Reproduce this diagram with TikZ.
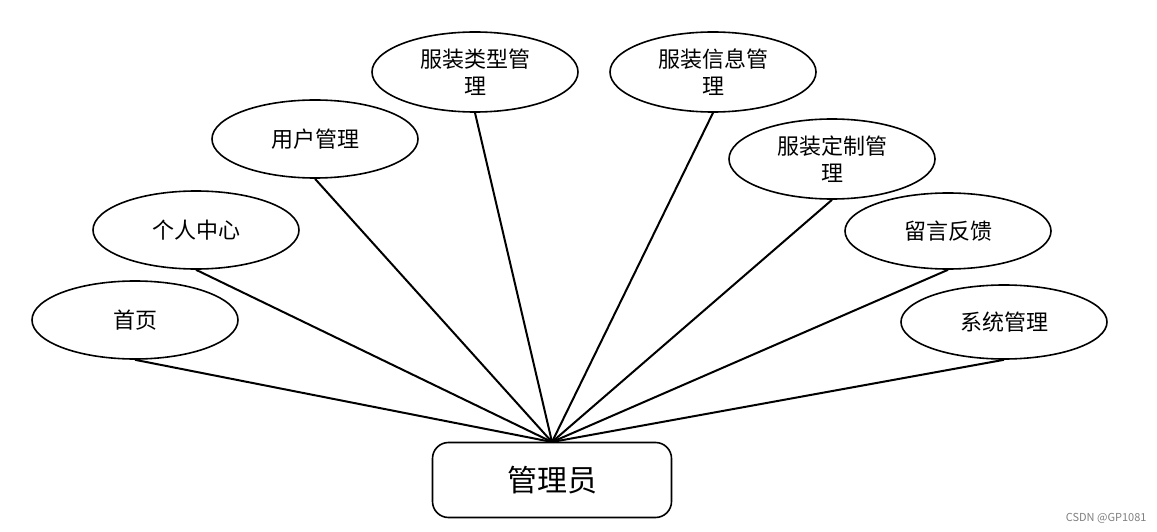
\documentclass[tikz,border=0pt]{standalone}
\usepackage{fontspec}
\setmainfont{Noto Sans CJK SC}
\usetikzlibrary{shapes.geometric}
\begin{document}
\begin{tikzpicture}[x=1pt,y=-1pt,
  ell/.style={ellipse,draw,line width=1.6pt,minimum width=206pt,minimum height=78pt,inner sep=0pt,font=\fontsize{22}{27}\selectfont,align=center},
  conn/.style={line width=2pt}]
\useasboundingbox[fill=white] (0,0) rectangle (1157,532);
\node[ell] (a) at (135,320) {首页};
\node[ell] (b) at (196,230) {个人中心};
\node[ell] (c) at (315,139) {用户管理};
\node[ell,minimum height=80pt] (d) at (475,72) {服装类型管\\理};
\node[ell,minimum height=80pt] (e) at (713,72) {服装信息管\\理};
\node[ell,minimum height=80pt] (f) at (832,159) {服装定制管\\理};
\node[ell,minimum height=76pt] (g) at (948,231) {留言反馈};
\node[ell,minimum height=74pt] (h) at (1004,322) {系统管理};
\node[draw,line width=1.6pt,rounded corners=16pt,minimum width=239pt,minimum height=75pt,font=\fontsize{30}{36}\selectfont] (m) at (552,480) {管理员};
\coordinate (t) at (552,442);
\foreach \n in {a,b,c,d,e,f,g,h}{\draw[conn] (\n.south) -- (t);}
\node[anchor=east,font=\fontsize{11}{13}\selectfont,text=gray] (w) at (1150,518) {CSDN @GP1081};
\end{tikzpicture}
\end{document}
